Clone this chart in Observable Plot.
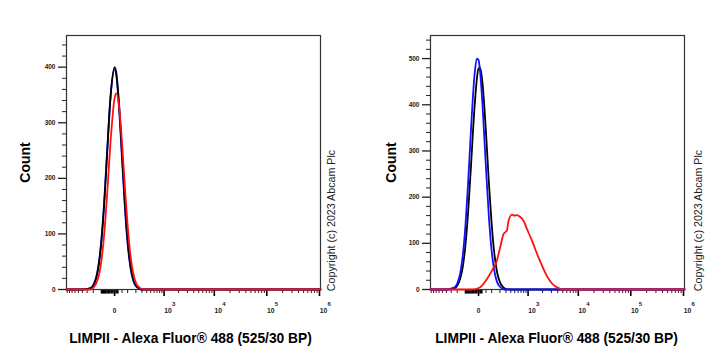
<!DOCTYPE html>
<html><head><meta charset="utf-8">
<script src="https://cdn.jsdelivr.net/npm/d3@7"></script>
<script src="https://cdn.jsdelivr.net/npm/@observablehq/plot@0.6"></script>
<style>
body{margin:0;background:#fff;}
#wrap{display:flex;width:716px;height:358px;}
#wrap svg{overflow:visible;flex:none;}
</style></head><body><div id="wrap"></div>
<script>
// ---- axis ticks ----
const xTickValues = [0, 1000, 10000, 100000, 1000000];
const xZeroLabel = ["0"];
const xPowValues = [1000, 10000, 100000, 1000000];
const xPowBase = ["10", "10", "10", "10"];
const xExpLabels = ["3", "4", "5", "6"];
const xMinorTicks = [-900, -800, -700, -600, -500, -400, -300, -200,
  50, 100, 200, 300, 400, 500, 600, 700, 800, 900,
  2000, 3000, 4000, 5000, 6000, 7000, 8000, 9000,
  20000, 30000, 40000, 50000, 60000, 70000, 80000, 90000,
  200000, 300000, 400000, 500000, 600000, 700000, 800000, 900000];
const xClusterTicks = [-100, -90, -80, -70, -60, -50, -40, -30, -20, -10, 0, 10, 20];

const leftYMajor = [0, 100, 200, 300, 400];
const leftYMinor = [20, 40, 60, 80, 120, 140, 160, 180, 220, 240, 260, 280, 320, 340, 360, 380, 420, 440];
const rightYMajor = [0, 100, 200, 300, 400, 500];
const rightYMinor = [20, 40, 60, 80, 120, 140, 160, 180, 220, 240, 260, 280, 320, 340, 360, 380, 420, 440, 460, 480, 520, 540];

// ---- texts ----
const yTitle = "Count";
const xTitle = "LIMPII - Alexa Fluor® 488 (525/30 BP)";
const copyright = "Copyright (c) 2023 Abcam Plc";

// ---- left panel data ----
const leftX     = [-930, -400, -250, -200, -160, -130, -100, -75, -50, -25, 0, 10, 25, 50, 75, 100, 130, 160, 200, 250, 300, 400, 600, 1045000];
const leftBlack = [0, 0, 2, 7, 20, 43, 88, 152, 244, 346, 400, 390, 346, 244, 152, 88, 43, 20, 7, 2, 0, 0, 0, 0];
const leftBlue  = [0, 0, 2, 8, 22, 46, 92, 156, 248, 347, 396, 386, 338, 236, 145, 82, 40, 18, 6, 2, 0, 0, 0, 0];
const leftRed   = [0, 0, 0, 3, 11, 24, 53, 98, 171, 266, 344, 353, 337, 265, 182, 115, 62, 32, 12, 4, 1, 0, 0, 0];

// ---- right panel data ----
const rightX     = [-930, -400, -250, -200, -160, -130, -100, -75, -50, -25, -10, 0, 10, 25, 50, 75, 100, 130, 160, 200, 250, 300, 400, 600, 1045000];
const rightBlack = [0, 0, 2, 8, 23, 48, 97, 168, 272, 395, 456, 479, 480, 445, 339, 228, 143, 76, 39, 16, 5, 1, 0, 0, 0];
const rightBlue  = [0, 0, 4, 13, 35, 72, 140, 231, 351, 465, 500, 497, 468, 397, 262, 154, 84, 39, 17, 6, 1, 0, 0, 0, 0];
const rightRedX  = [-930, -43, 10, 58, 103, 160, 205, 257, 319, 351, 429, 500, 565, 672, 797, 945, 1208, 1533, 1938, 2444, 3072, 4140, 5182, 1045000];
const rightRed   = [0, 0, 5, 23, 41, 63, 92, 120, 128, 149, 162, 160, 161, 157, 149, 131, 106, 78, 52, 29, 13, 3, 0, 0];

const FONT = "'Liberation Sans', Arial, Helvetica, sans-serif";

function toRows(xs, ys) { return xs.map((x, i) => ({x, y: ys[i]})); }

function panel({marginLeft, marginRight, yMax, yMajor, yMinor, series, countDx, titleDx, copyDx}) {
  const lineMarks = series.map(s => Plot.line(toRows(s.x, s.y), {
    x: "x", y: "y", stroke: s.color, strokeWidth: 1.8, curve: "monotone-x"
  }));
  const labelStyle = {frameAnchor: "bottom", lineAnchor: "middle", fontWeight: "bold", fill: "#222"};
  return Plot.plot({
    width: 358, height: 358,
    marginLeft, marginRight, marginTop: 35, marginBottom: 69,
    x: {type: "symlog", constant: 130, domain: [-930, 1045000]},
    y: {domain: [0, yMax]},
    style: {fontFamily: FONT, background: "#fff", overflow: "visible"},
    marks: [
      Plot.axisY(yMinor, {anchor: "left", tickSize: 4, tickFormat: () => "", label: null, stroke: "#222"}),
      Plot.axisY(yMajor, {anchor: "left", tickSize: 8, tickPadding: 3, fontSize: 6.5, fontWeight: "bold",
        fill: "#222", stroke: "#222", strokeWidth: 1.3, label: null, tickFormat: d => String(d)}),
      Plot.axisX(xMinorTicks, {anchor: "bottom", tickSize: 4, tickFormat: () => "", label: null, stroke: "#222"}),
      Plot.axisX(xClusterTicks, {anchor: "bottom", tickSize: 4.5, tickFormat: () => "", label: null, stroke: "#000", strokeWidth: 1.6}),
      Plot.axisX(xTickValues, {anchor: "bottom", tickSize: 7, tickFormat: () => "", label: null,
        stroke: "#000", strokeWidth: 1.6}),
      Plot.text(xZeroLabel, {...labelStyle, x: () => 0, text: d => d, dy: 21, textAnchor: "middle", fontSize: 6.5}),
      Plot.text(xPowValues, {...labelStyle, x: d => d, text: (d, i) => xPowBase[i], dy: 21, dx: 4, textAnchor: "middle", fontSize: 6.8}),
      Plot.text(xPowValues, {...labelStyle, x: d => d, text: (d, i) => xExpLabels[i], dy: 15, dx: 8, textAnchor: "start", fontSize: 6}),
      Plot.frame({stroke: "#333", strokeWidth: 1.2}),
      ...lineMarks,
      Plot.text([yTitle], {frameAnchor: "left", dx: countDx, rotate: -90, textAnchor: "middle",
        fontSize: 14, fontWeight: "bold", fill: "#000"}),
      Plot.text([xTitle], {frameAnchor: "bottom", dy: 49, dx: titleDx, textAnchor: "middle", lineAnchor: "middle",
        fontSize: 13.8, fontWeight: "bold", fill: "#000"}),
      Plot.text([copyright], {frameAnchor: "right", dx: copyDx, dy: 58, rotate: -90, textAnchor: "middle",
        fontSize: 10.7, fill: "#222"})
    ]
  });
}

const wrap = document.getElementById("wrap");
wrap.appendChild(panel({
  marginLeft: 66, marginRight: 38, yMax: 457, yMajor: leftYMajor, yMinor: leftYMinor,
  series: [
    {x: leftX, y: leftBlue, color: "#1010ff"},
    {x: leftX, y: leftBlack, color: "#000"},
    {x: leftX, y: leftRed, color: "#ff1010"}
  ],
  countDx: -41, titleDx: -3, copyDx: 11
}));
wrap.appendChild(panel({
  marginLeft: 72, marginRight: 32, yMax: 550, yMajor: rightYMajor, yMinor: rightYMinor,
  series: [
    {x: rightX, y: rightBlack, color: "#000"},
    {x: rightX, y: rightBlue, color: "#1010ff"},
    {x: rightRedX, y: rightRed, color: "#ff1010"}
  ],
  countDx: -39, titleDx: -1, copyDx: 14.5
}));
</script></body></html>
